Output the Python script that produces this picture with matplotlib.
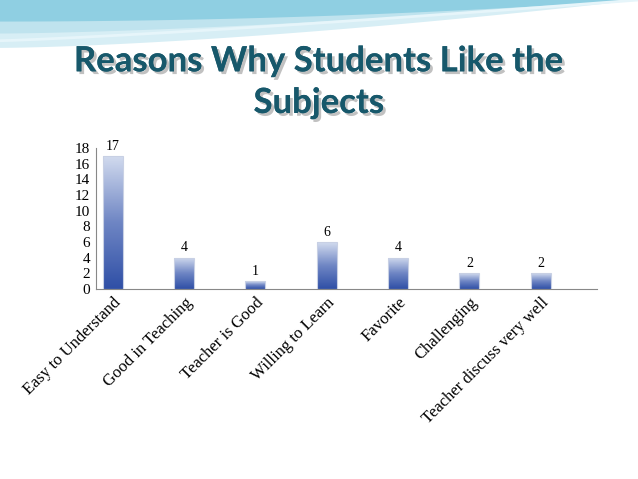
import matplotlib
matplotlib.use("Agg")
import matplotlib.pyplot as plt
import numpy as np
import matplotlib.patheffects as pe
from matplotlib.colors import LinearSegmentedColormap

categories = ["Easy to Understand", "Good in Teaching", "Teacher is Good", "Willing to Learn",
              "Favorite", "Challenging", "Teacher discuss very well"]
values = [17, 4, 1, 6, 4, 2, 2]
yticks = [0, 2, 4, 6, 8, 10, 12, 14, 16, 18]

fig = plt.figure(figsize=(6.38, 4.79), dpi=100)
fig.patch.set_facecolor("white")

# background swoosh
bg = fig.add_axes([0, 0, 1, 1], zorder=-5)
bg.set_xlim(0, 1); bg.set_ylim(0, 1); bg.axis("off")
xs = np.linspace(0, 1, 200)
top = np.ones_like(xs)
bg.fill_between(xs, 0.90 + 0.10 * xs**1.5, top, color="#d7eef5", lw=0)
bg.fill_between(xs, 0.93 + 0.07 * xs**1.5, top, color="#bfe3ee", lw=0)
bg.fill_between(xs, 0.955 + 0.045 * xs**2, top, color="#8fcfe2", lw=0)
bg.plot(xs, 0.915 + 0.085 * xs**1.2, color="#e6f5fa", lw=2)

shadow = [pe.withSimplePatchShadow(offset=(2, -2), shadow_rgbFace="#999999", alpha=0.6), pe.Normal()]
fig.text(0.5, 0.872, "Reasons Why Students Like the", ha="center", va="center",
         fontsize=25, fontweight="bold", color="#17586b", family="Lato", path_effects=shadow)
fig.text(0.5, 0.785, "Subjects", ha="center", va="center",
         fontsize=25, fontweight="bold", color="#17586b", family="Lato", path_effects=shadow)

ax = fig.add_axes([0.150, 0.397, 0.786, 0.294])
ax.set_facecolor("none")
x = np.arange(len(categories))
bars = ax.bar(x, values, width=0.28, color="none", edgecolor="#c8d0e4", lw=0.8, zorder=3)
cmap = LinearSegmentedColormap.from_list("g", ["#2f4fa6", "#6f86c4", "#d3dcef"])
grad = np.linspace(0, 1, 256).reshape(-1, 1)
for b in bars:
    x0, w, h = b.get_x(), b.get_width(), b.get_height()
    im = ax.imshow(grad, cmap=cmap, aspect="auto", extent=[x0, x0 + w, 0, h], origin="lower", zorder=2)
    im.set_clip_path(b)
for xi, v in zip(x, values):
    ax.text(xi, v + 0.4, str(v), ha="center", va="bottom", fontsize=10, family="Liberation Serif")
ax.set_xlim(-0.24, 6.79)
ax.set_ylim(0, 18)
ax.set_yticks(yticks)
ax.set_yticklabels([str(t) for t in yticks], family="Liberation Serif", fontsize=11)
ax.set_xticks(x)
ax.set_xticklabels(categories, rotation=45, ha="right", rotation_mode="anchor",
                   family="Liberation Serif", fontsize=12)
ax.tick_params(length=0, pad=4)
for s in ["top", "right"]:
    ax.spines[s].set_visible(False)
ax.spines["left"].set_color("#888888")
ax.spines["bottom"].set_color("#888888")

fig.savefig("out.png", dpi=100)
